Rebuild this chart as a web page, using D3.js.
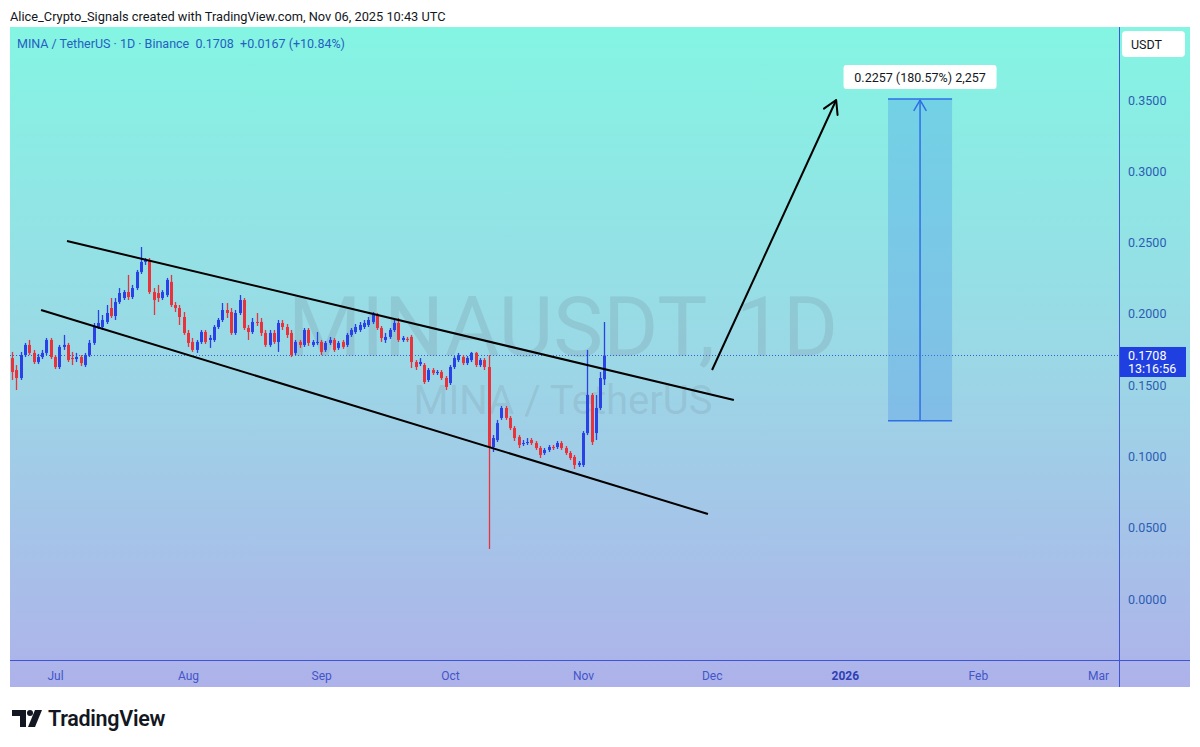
<!DOCTYPE html>
<html lang="en">
<head>
    <meta charset="UTF-8">
    <title>MINAUSDT 1D</title>
    <style>
        body { margin: 0; background: #fff; }
        text { font-family: Roboto, "Noto Sans", sans-serif; }
        .price-tick text { font-size: 12.5px; fill: #2c5db4; }
        .time-tick text { font-size: 12px; fill: #4355c8; }
    </style>
</head>
<body>
<svg width="1200" height="747"></svg>
<script src="https://d3js.org/d3.v7.min.js"></script>
<script>

    // ---- data -------------------------------------------------------------

    // first daily candle, one candle per day after it
    const firstDay = new Date(2025, 5, 21);

    const opens = [
        .1690, .1606, .1550, .1711, .1782, .1726, .1662, .1697, .1726, .1817,
        .1697, .1627, .1768, .1782, .1690, .1683, .1697, .1641, .1711, .1796,
        .1908, .1908, .1943, .2041, .1985, .2083, .2111, .2153, .2118, .2181,
        .2294, .2364, .2378, .2153, .2146, .2111, .2132, .2224, .2062, .2041,
        .1978, .1866, .1803, .1747, .1803, .1873, .1817, .1817, .1908, .1957,
        .2027, .2013, .1866, .2006, .2097, .1901, .1873, .1943, .1943, .1866,
        .1782, .1866, .1803, .1936, .1908, .1866, .1726, .1803, .1782, .1887,
        .1782, .1796, .1803, .1747, .1796, .1817, .1761, .1803, .1782, .1852,
        .1873, .1887, .1908, .1922, .1943, .1992, .1901, .1817, .1838, .1887,
        .1936, .1817, .1824, .1838, .1662, .1648, .1641, .1536, .1606, .1585,
        .1592, .1550, .1515, .1627, .1676, .1697, .1655, .1676, .1726, .1641,
        .1676, .1627, .1066, .1115, .1270, .1340, .1270, .1199, .1136, .1087,
        .1094, .1115, .1094, .1059, .1024, .1045, .1066, .1066, .1094, .1059,
        .1024, .0996, .0940, .0940, .1164, .1431, .1164, .1340, .1541
    ];
    const highs = [
        .1733, .1641, .1733, .1796, .1817, .1747, .1719, .1747, .1831, .1831,
        .1711, .1782, .1852, .1796, .1733, .1726, .1711, .1726, .1817, .1936,
        .2027, .1992, .2062, .2111, .2111, .2181, .2167, .2273, .2203, .2308,
        .2469, .2392, .2392, .2181, .2203, .2167, .2252, .2273, .2083, .2062,
        .2013, .1887, .1831, .1817, .1887, .1887, .1852, .1922, .1971, .2076,
        .2076, .2041, .2027, .2132, .2111, .1922, .1971, .2006, .1971, .1887,
        .1887, .1887, .1957, .1957, .1929, .1887, .1817, .1817, .1901, .1901,
        .1817, .1873, .1817, .1810, .1838, .1831, .1810, .1817, .1866, .1901,
        .1929, .1943, .1957, .1978, .2013, .2006, .1915, .1866, .1901, .1957,
        .1971, .1845, .1838, .1852, .1676, .1690, .1655, .1620, .1620, .1606,
        .1606, .1564, .1641, .1704, .1726, .1711, .1704, .1733, .1733, .1690,
        .1690, .1711, .1150, .1256, .1354, .1354, .1284, .1213, .1150, .1115,
        .1129, .1129, .1108, .1073, .1059, .1080, .1080, .1108, .1108, .1073,
        .1038, .1010, .0968, .1178, .1747, .1445, .1431, .1592, .1943
    ];
    const lows = [
        .1536, .1466, .1536, .1697, .1711, .1648, .1648, .1683, .1711, .1683,
        .1613, .1613, .1747, .1662, .1641, .1662, .1634, .1627, .1697, .1782,
        .1894, .1887, .1929, .1971, .1957, .2069, .2097, .2097, .2104, .2167,
        .2280, .2343, .2139, .1992, .2083, .2097, .2118, .2048, .2013, .1922,
        .1852, .1768, .1733, .1726, .1789, .1789, .1761, .1803, .1894, .1943,
        .1971, .1852, .1852, .1992, .1887, .1817, .1859, .1915, .1845, .1768,
        .1768, .1789, .1733, .1887, .1831, .1697, .1711, .1761, .1768, .1775,
        .1768, .1782, .1711, .1733, .1782, .1733, .1747, .1754, .1768, .1838,
        .1859, .1873, .1894, .1908, .1929, .1887, .1803, .1796, .1824, .1873,
        .1803, .1803, .1803, .1620, .1606, .1634, .1508, .1522, .1571, .1571,
        .1536, .1466, .1501, .1613, .1662, .1641, .1641, .1662, .1627, .1627,
        .1606, .0351, .1031, .1101, .1256, .1256, .1185, .1108, .1059, .1073,
        .1080, .1080, .1045, .0989, .1010, .1031, .1045, .1052, .1045, .1010,
        .0975, .0912, .0926, .0926, .1150, .1080, .1115, .1326, .1501
    ];
    const closes = [
        .1592, .1550, .1711, .1782, .1726, .1662, .1697, .1726, .1817, .1697,
        .1627, .1768, .1782, .1676, .1683, .1697, .1655, .1711, .1796, .1908,
        .1936, .1957, .2006, .1985, .2083, .2146, .2153, .2118, .2181, .2294,
        .2364, .2378, .2153, .2097, .2111, .2153, .2238, .2062, .2041, .1978,
        .1866, .1796, .1747, .1803, .1873, .1803, .1831, .1908, .1957, .2027,
        .2006, .1866, .2006, .2097, .1901, .1873, .1943, .1936, .1866, .1782,
        .1866, .1803, .1936, .1908, .1852, .1711, .1803, .1782, .1887, .1796,
        .1803, .1803, .1733, .1796, .1817, .1747, .1796, .1768, .1852, .1887,
        .1908, .1922, .1936, .1957, .1992, .1901, .1831, .1838, .1887, .1936,
        .1817, .1831, .1817, .1662, .1627, .1662, .1522, .1606, .1585, .1592,
        .1550, .1487, .1627, .1690, .1711, .1655, .1690, .1726, .1641, .1676,
        .1627, .1066, .1129, .1234, .1340, .1270, .1199, .1129, .1080, .1094,
        .1101, .1094, .1059, .1010, .1045, .1066, .1059, .1094, .1059, .1024,
        .0989, .0940, .0954, .1164, .1431, .1101, .1340, .1550, .1708
    ];

    const lastPrice = 0.1708;

    // axis ticks
    const priceTicks = [0, 0.05, 0.10, 0.15, 0.20, 0.25, 0.30, 0.35];
    const monthTicks = [
        new Date(2025, 6, 1), new Date(2025, 7, 1), new Date(2025, 8, 1),
        new Date(2025, 9, 1), new Date(2025, 10, 1), new Date(2025, 11, 1),
        new Date(2026, 0, 1), new Date(2026, 1, 1), new Date(2026, 2, 1)
    ];
    const monthLabels = ['Jul', 'Aug', 'Sep', 'Oct', 'Nov', 'Dec', '2026', 'Feb', 'Mar'];

    // drawings (date, price)
    const upperChannel = [[new Date(2025, 6, 3, 19), 0.2511], [new Date(2025, 11, 6, 4), 0.1396]];
    const lowerChannel = [[new Date(2025, 5, 27, 18), 0.2027], [new Date(2025, 10, 30, 3), 0.0596]];
    const targetArrow = [[new Date(2025, 11, 1, 2), 0.1606], [new Date(2025, 11, 30), 0.3500]];
    const rangeDates = [new Date(2026, 0, 11, 2), new Date(2026, 0, 26)];
    const rangePrices = [0.1250, 0.3507];
    const rangeLabel = '0.2257 (180.57%) 2,257';

    // ---- layout -----------------------------------------------------------

    const panel = { left: 10, top: 27, right: 1190, bottom: 687 };
    const plotRight = 1119;
    const plotBottom = 660;

    const svg = d3.select('svg');

    const xScale = d3.scaleTime()
        .domain([monthTicks[0], monthTicks[monthTicks.length - 1]])
        .range([55, 1098]);

    const yScale = d3.scaleLinear()
        .domain([0, 0.35])
        .range([599, 100]);

    const candles = closes.map(function (c, i) {
        return {
            date: d3.timeDay.offset(firstDay, i),
            open: opens[i], high: highs[i], low: lows[i], close: c
        };
    });

    // background gradient
    const defs = svg.append('defs');
    const grad = defs.append('linearGradient')
        .attr('id', 'bg')
        .attr('x1', 0).attr('y1', 0).attr('x2', 0).attr('y2', 1);
    grad.append('stop').attr('offset', '0%').attr('stop-color', '#84f5e3');
    grad.append('stop').attr('offset', '50%').attr('stop-color', '#9bd8e6');
    grad.append('stop').attr('offset', '100%').attr('stop-color', '#aeb2ea');

    defs.append('clipPath').attr('id', 'plotClip')
        .append('rect')
        .attr('x', panel.left).attr('y', panel.top)
        .attr('width', plotRight - panel.left).attr('height', plotBottom - panel.top);

    svg.append('rect')
        .attr('x', panel.left).attr('y', panel.top)
        .attr('width', panel.right - panel.left).attr('height', panel.bottom - panel.top)
        .attr('fill', 'url(#bg)');

    // top credit line
    svg.append('text')
        .attr('x', 10).attr('y', 21)
        .style('font-size', '12.8px')
        .attr('fill', '#131722')
        .text('Alice_Crypto_Signals created with TradingView.com, Nov 06, 2025 10:43 UTC');

    // watermark (one text block, two lines)
    const wm = svg.append('text')
        .attr('text-anchor', 'middle')
        .attr('fill', '#6b7585')
        .attr('fill-opacity', 0.18);
    wm.append('tspan')
        .attr('x', 563).attr('y', 356)
        .style('font-size', '84px')
        .text('MINAUSDT, 1D');
    wm.append('tspan')
        .attr('x', 563).attr('y', 414)
        .style('font-size', '40px')
        .text('MINA / TetherUS');

    const plot = svg.append('g').attr('clip-path', 'url(#plotClip)');

    // last price dotted line
    plot.append('line')
        .attr('x1', panel.left).attr('x2', plotRight)
        .attr('y1', yScale(lastPrice)).attr('y2', yScale(lastPrice))
        .attr('stroke', '#3a5bd6')
        .attr('stroke-width', 1)
        .attr('stroke-dasharray', '1,2');

    // candles
    const upColor = '#2a41e6';
    const downColor = '#e8333c';
    const bodyW = 3;

    const candleG = plot.append('g')
        .selectAll('g')
        .data(candles)
        .enter()
        .append('g')
        .attr('fill', function (d) { return d.close >= d.open ? upColor : downColor; })
        .attr('stroke', function (d) { return d.close >= d.open ? upColor : downColor; });

    candleG.append('line')
        .attr('x1', function (d) { return Math.round(xScale(d.date)) + 0.5; })
        .attr('x2', function (d) { return Math.round(xScale(d.date)) + 0.5; })
        .attr('y1', function (d) { return yScale(d.high); })
        .attr('y2', function (d) { return yScale(d.low); })
        .attr('stroke-width', 1.3);

    candleG.append('rect')
        .attr('x', function (d) { return Math.round(xScale(d.date)) + 0.5 - bodyW / 2; })
        .attr('y', function (d) { return yScale(Math.max(d.open, d.close)); })
        .attr('width', bodyW)
        .attr('height', function (d) {
            return Math.max(1, Math.abs(yScale(d.open) - yScale(d.close)));
        })
        .attr('stroke', 'none');

    // channel lines
    const toXY = function (p) { return [xScale(p[0]), yScale(p[1])]; };
    const line = d3.line();

    [upperChannel, lowerChannel].forEach(function (seg) {
        plot.append('path')
            .attr('d', line(seg.map(toXY)))
            .attr('stroke', '#000')
            .attr('stroke-width', 2)
            .attr('fill', 'none');
    });

    // arrow helper
    function arrow(g, from, to, color, width, head) {
        g.append('path')
            .attr('d', line([from, to]))
            .attr('stroke', color).attr('stroke-width', width).attr('fill', 'none');
        const ang = Math.atan2(to[1] - from[1], to[0] - from[0]);
        const spread = Math.PI / 6;
        const a1 = [to[0] - head * Math.cos(ang - spread), to[1] - head * Math.sin(ang - spread)];
        const a2 = [to[0] - head * Math.cos(ang + spread), to[1] - head * Math.sin(ang + spread)];
        g.append('path')
            .attr('d', line([a1, to, a2]))
            .attr('stroke', color).attr('stroke-width', width)
            .attr('stroke-linecap', 'round').attr('stroke-linejoin', 'round')
            .attr('fill', 'none');
    }

    arrow(plot, toXY(targetArrow[0]), toXY(targetArrow[1]), '#000', 2, 15);

    // price range measurement
    const rx0 = xScale(rangeDates[0]);
    const rx1 = xScale(rangeDates[1]);
    const ryTop = yScale(rangePrices[1]);
    const ryBot = yScale(rangePrices[0]);
    const rangeColor = '#2f6fe6';

    plot.append('rect')
        .attr('x', rx0).attr('y', ryTop)
        .attr('width', rx1 - rx0).attr('height', ryBot - ryTop)
        .attr('fill', '#3f8de8').attr('fill-opacity', 0.3);
    [ryTop, ryBot].forEach(function (yy) {
        plot.append('line')
            .attr('x1', rx0).attr('x2', rx1).attr('y1', yy).attr('y2', yy)
            .attr('stroke', rangeColor).attr('stroke-width', 1.5);
    });
    arrow(plot, [(rx0 + rx1) / 2, ryBot], [(rx0 + rx1) / 2, ryTop + 1], rangeColor, 1.5, 12);

    const labelW = 153, labelH = 24;
    const lx = (rx0 + rx1) / 2;
    svg.append('rect')
        .attr('x', lx - labelW / 2).attr('y', ryTop - 34)
        .attr('width', labelW).attr('height', labelH)
        .attr('rx', 3)
        .attr('fill', '#fff');
    svg.append('text')
        .attr('x', lx).attr('y', ryTop - 17.5)
        .attr('text-anchor', 'middle')
        .style('font-size', '12.5px')
        .attr('fill', '#131722')
        .text(rangeLabel);

    // legend line
    svg.append('text')
        .attr('x', 17).attr('y', 48)
        .style('font-size', '12.5px')
        .attr('fill', '#2361c2')
        .attr('xml:space', 'preserve')
        .text('MINA / TetherUS \u00b7 1D \u00b7 Binance  0.1708  +0.0167 (+10.84%)');

    // ---- axes -------------------------------------------------------------

    const axisBlue = '#3f55d6';

    svg.append('line')
        .attr('x1', plotRight + 0.5).attr('x2', plotRight + 0.5)
        .attr('y1', panel.top).attr('y2', panel.bottom)
        .attr('stroke', axisBlue).attr('stroke-width', 1);
    svg.append('line')
        .attr('x1', panel.left).attr('x2', panel.right)
        .attr('y1', plotBottom + 0.5).attr('y2', plotBottom + 0.5)
        .attr('stroke', axisBlue).attr('stroke-width', 1);

    const yAxis = d3.axisRight(yScale)
        .tickValues(priceTicks)
        .tickFormat(d3.format('.4f'))
        .tickSize(0)
        .tickPadding(9);

    const yAxisG = svg.append('g')
        .attr('class', 'price-tick')
        .attr('transform', 'translate(' + plotRight + ' 0)')
        .call(yAxis);
    yAxisG.select('.domain').remove();
    yAxisG.selectAll('text').attr('font-family', null);

    const xAxis = d3.axisBottom(xScale)
        .tickValues(monthTicks)
        .tickFormat(function (d, i) { return monthLabels[i]; })
        .tickSize(0)
        .tickPadding(11);

    const xAxisG = svg.append('g')
        .attr('class', 'time-tick')
        .attr('transform', 'translate(0 ' + plotBottom + ')')
        .call(xAxis);
    xAxisG.select('.domain').remove();
    xAxisG.selectAll('text')
        .attr('font-family', null)
        .style('font-weight', function (d, i) { return monthLabels[i] === '2026' ? 'bold' : null; })
        .style('fill', function (d, i) { return monthLabels[i] === '2026' ? '#2f3fb5' : null; });

    // USDT box
    svg.append('rect')
        .attr('x', 1122).attr('y', 31)
        .attr('width', 63).attr('height', 26)
        .attr('rx', 4)
        .attr('fill', '#fff');
    svg.append('text')
        .attr('x', 1131).attr('y', 48.5)
        .style('font-size', '12.5px')
        .attr('fill', '#131722')
        .text('USDT');

    // last price tag
    const ly = yScale(lastPrice);
    svg.append('rect')
        .attr('x', plotRight + 1).attr('y', ly - 8.5)
        .attr('width', 66).attr('height', 30)
        .attr('fill', '#1f3fe0');
    svg.append('text')
        .attr('x', 1128).attr('y', ly + 4.5)
        .style('font-size', '12.5px')
        .attr('fill', '#fff')
        .text(d3.format('.4f')(lastPrice));
    svg.append('text')
        .attr('x', 1128).attr('y', ly + 18)
        .style('font-size', '12.5px')
        .attr('fill', '#fff')
        .text('13:16:56');

    // ---- TradingView footer logo -----------------------------------------

    const logo = svg.append('g').attr('fill', '#131722');
    logo.append('path').attr('d', 'M12 710 H26 V727 H20 V716 H12 Z');
    logo.append('circle').attr('cx', 30).attr('cy', 713).attr('r', 3);
    logo.append('path').attr('d', 'M35 710 H42 L35 727 H28 Z');
    svg.append('text')
        .attr('x', 48).attr('y', 726)
        .style('font-size', '21.5px')
        .style('font-weight', 600)
        .style('letter-spacing', '-0.3px')
        .attr('fill', '#131722')
        .text('TradingView');

</script>
</body>
</html>
